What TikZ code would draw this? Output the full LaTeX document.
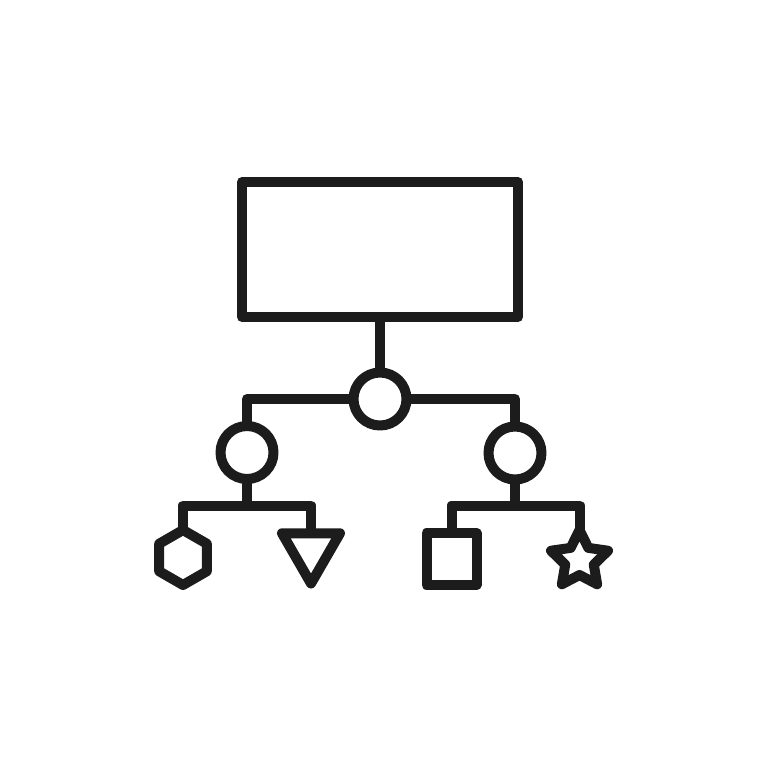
\documentclass[tikz,border=0pt]{standalone}
\usetikzlibrary{shapes.geometric}
\definecolor{ink}{HTML}{1C1C1C}
\begin{document}
\begin{tikzpicture}[x=1pt,y=-1pt,
  shp/.style={draw=ink,line width=10pt,inner sep=0pt,outer sep=0pt,line join=round},
  ring/.style={shp,circle,minimum size=53pt},
  box/.style={shp,rectangle,minimum width=276pt,minimum height=135pt},
  hexa/.style={shp,regular polygon,regular polygon sides=6,regular polygon rotate=30,minimum size=55pt},
  tri/.style={shp,regular polygon,regular polygon sides=3,regular polygon rotate=180,minimum size=67pt},
  sq/.style={shp,rectangle,minimum width=50pt,minimum height=52pt},
  starshp/.style={shp,star,star points=5,star point ratio=2.0,minimum size=60pt},
  wire/.style={draw=ink,line width=10pt,line join=round}]
\useasboundingbox (0,0) rectangle (768,768);
\fill[white] (0,0) rectangle (768,768);
\node[box] (top) at (380,249.5) {};
\node[ring] (c0) at (380,399) {};
\node[ring] (c1) at (247,452.5) {};
\node[ring] (c2) at (515,453) {};
\node[hexa] (hex) at (183,557.5) {};
\node[tri] (tr) at (311,550) {};
\node[sq] (sqr) at (451.5,559) {};
\node[starshp] (st) at (579.5,560) {};
\coordinate (j1) at (247,505.5);
\coordinate (j2) at (515,505.5);
\draw[wire] (top.south) -- (c0.north);
\draw[wire] (c1.north) |- (c0.west);
\draw[wire] (c2.north) |- (c0.east);
\draw[wire] (c1.south) -- (j1);
\draw[wire] (hex.north) -- (hex.north |- j1) -- (tr.north |- j1) -- (tr.north);
\draw[wire] (c2.south) -- (j2);
\draw[wire] (sqr.north) -- (sqr.north |- j2) -- (st.north |- j2) -- (st.north);
\end{tikzpicture}
\end{document}
